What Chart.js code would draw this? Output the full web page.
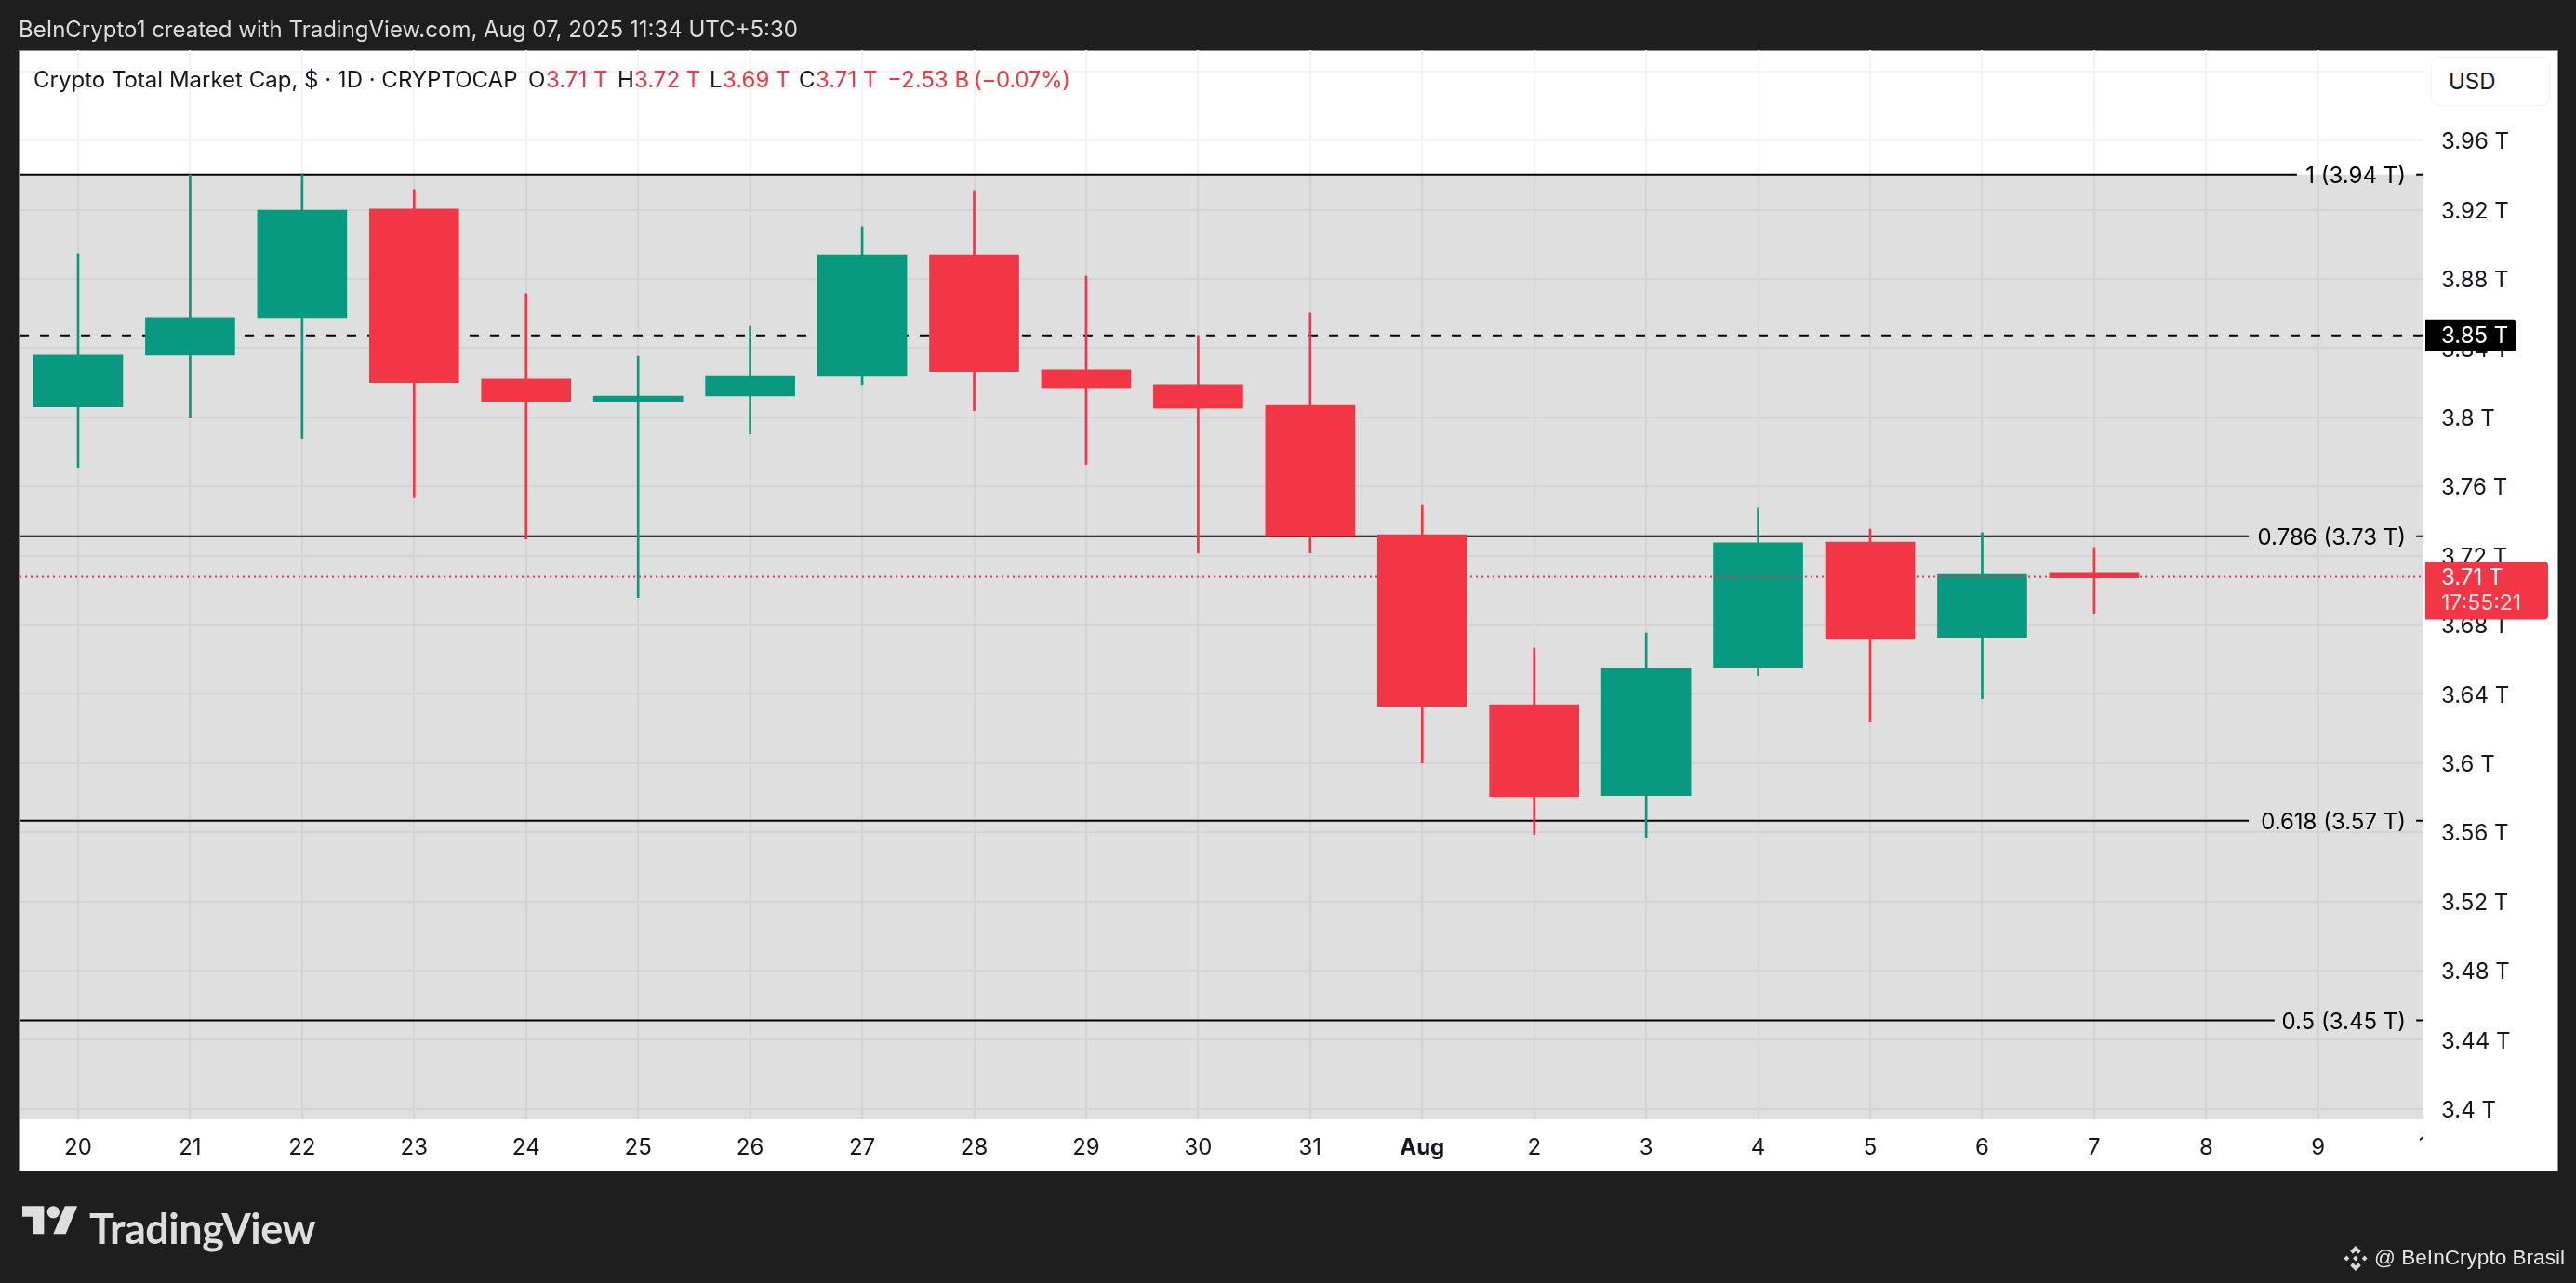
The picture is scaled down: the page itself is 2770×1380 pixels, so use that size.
<!DOCTYPE html>
<html><head><meta charset="utf-8">
<script src="https://cdn.jsdelivr.net/npm/chart.js@4"></script>
<style>
html,body{margin:0;padding:0;width:2770px;height:1380px;background:#1e1e1e;overflow:hidden;font-family:Inter,sans-serif}
#panel{position:absolute;left:20px;top:54px;width:2731px;height:1206px;box-sizing:border-box;background:#fff;border:1px solid #8a8a8a}
canvas{position:absolute;left:0;top:0}
.t{position:absolute;white-space:nowrap;font-size:24px;line-height:30px}
.d{color:#131722}.r{color:#f23645}
#usd{position:absolute;left:2614px;top:61px;width:128px;height:53px;box-sizing:border-box;border:1px solid #f0f3fa;border-radius:8px;background:#fff;color:#131722;font-size:24px;line-height:51px;padding-left:18px}
</style></head><body>
<div id="panel"></div>
<canvas id="c" width="2770" height="1380"></canvas>
<div class="t" style="left:20px;top:17px;color:#dcdcdc;font-size:24px">BeInCrypto1 created with TradingView.com, Aug 07, 2025 11:34 UTC+5:30</div>
<div class="t d" style="left:36px;top:71px">Crypto Total Market Cap, $ · 1D · CRYPTOCAP</div>
<div class="t d" style="left:568px;top:71px">O</div><div class="t r" style="left:587px;top:71px">3.71 T</div>
<div class="t d" style="left:664px;top:71px">H</div><div class="t r" style="left:682px;top:71px">3.72 T</div>
<div class="t d" style="left:763px;top:71px">L</div><div class="t r" style="left:777px;top:71px">3.69 T</div>
<div class="t d" style="left:859px;top:71px">C</div><div class="t r" style="left:877px;top:71px">3.71 T</div>
<div class="t r" style="left:954px;top:71px">−2.53 B</div><div class="t r" style="left:1047px;top:71px;letter-spacing:-.3px">(−0.07%)</div>
<div id="usd">USD</div>
<svg style="position:absolute;left:24px;top:1297px" width="60" height="37" viewBox="0 4 36 22"><g fill="#dedede"><path d="M14 22H7V11H0V4h14v18zM28 22h-8l7.5-18h8L28 22z"/><circle cx="20" cy="8" r="4"/></g></svg>
<div class="t" style="left:96px;top:1295px;font-family:Lato,sans-serif;font-weight:700;font-size:45px;line-height:52px;color:#dedede;letter-spacing:-.5px">TradingView</div>
<svg style="position:absolute;left:2519px;top:1340px" width="28" height="27" viewBox="0 0 28 28"><g fill="#d8d8d8"><path d="M14 0l6 6-3 3-3-3-3 3-3-3zM14 28l-6-6 3-3 3 3 3-3 3 3zM4 11l3 3-3 3-3-3zM24 11l3 3-3 3-3-3zM14 11l3 3-3 3-3-3z"/></g></svg>
<div class="t" style="left:2553px;top:1338px;font-family:'Liberation Sans',sans-serif;color:#e4e4e4;font-size:22.6px">@ BeInCrypto Brasil</div>
<script>
// ---- data ----
const dayLabels = ['20','21','22','23','24','25','26','27','28','29','30','31','Aug','2','3','4','5','6','7','8','9'];
const clippedDayLabel = '10';
const openValues  = [3.806,3.836,3.8575,3.9204,3.822,3.8093,3.8123,3.8241,3.894,3.8274,3.8188,3.8069,3.7322,3.6338,3.5813,3.6555,3.7279,3.6727,3.7102];
const closeValues = [3.836,3.8575,3.9198,3.82,3.8093,3.8123,3.8241,3.894,3.8265,3.8172,3.8053,3.7311,3.6329,3.5808,3.6548,3.7274,3.6722,3.7096,3.7071];
const highValues  = [3.8946,3.9404,3.9404,3.9317,3.8715,3.8354,3.8526,3.9102,3.9311,3.8817,3.8473,3.8602,3.7494,3.6666,3.6752,3.7478,3.7354,3.7333,3.7247];
const lowValues   = [3.7711,3.7996,3.7878,3.7534,3.7297,3.6958,3.7904,3.8188,3.8039,3.7727,3.7216,3.7216,3.6001,3.5587,3.5571,3.6507,3.6238,3.6372,3.6867];
const priceTicks  = [4.0,3.96,3.92,3.88,3.84,3.8,3.76,3.72,3.68,3.64,3.6,3.56,3.52,3.48,3.44,3.4];
const priceLabels = ['','3.96 T','3.92 T','3.88 T','3.84 T','3.8 T','3.76 T','3.72 T','3.68 T','3.64 T','3.6 T','3.56 T','3.52 T','3.48 T','3.44 T','3.4 T'];
const fibLevels   = [3.9404,3.7312,3.5667,3.4513];
const fibLabels   = ['1 (3.94 T)','0.786 (3.73 T)','0.618 (3.57 T)','0.5 (3.45 T)'];
const fibGapStart = [19.81,19.38,19.38,19.61];
const fibGapEnd   = 20.875;
const dashedLevel = 3.8474, dashedLabel = '3.85 T';
const lastPrice   = 3.7077, lastLabel = '3.71 T', countdown = '17:55:21';
// ---- view ----
const xMin=-0.523, xMax=20.94, yMin=3.394, yMax=4.0123;
const UP='#089981', DOWN='#f23645', INK='#131722';
const FONT='Inter, sans-serif';
const idx=openValues.map((_,i)=>i);
const colorOf=c=>closeValues[c.dataIndex]>=openValues[c.dataIndex]?UP:DOWN;
const hLine=(label,pts,extra)=>Object.assign({type:'line',label,data:pts,borderColor:'#000',borderWidth:2,pointRadius:0,spanGaps:false,tension:0},extra);

const datasets=[
  hLine('Fib zone',[{x:xMin,y:fibLevels[0]},{x:xMax,y:fibLevels[0]}],{borderWidth:0,fill:'start',backgroundColor:'rgba(0,0,0,0.125)',order:9}),
  ...fibLevels.map((lv,i)=>hLine(fibLabels[i],[{x:xMin,y:lv},{x:fibGapStart[i],y:lv},{x:fibGapStart[i],y:null},{x:fibGapEnd,y:lv},{x:xMax,y:lv}],{order:8})),
  hLine('Level '+dashedLabel,[{x:xMin,y:dashedLevel},{x:xMax,y:dashedLevel}],{borderDash:[10,12],order:8}),
  {type:'bar',label:'High-low',data:idx.map(i=>({x:i,y:[lowValues[i],highValues[i]]})),backgroundColor:colorOf,barThickness:2,order:4},
  {type:'bar',label:'Open-close',data:idx.map(i=>({x:i,y:[openValues[i],closeValues[i]]})),backgroundColor:colorOf,barThickness:96,order:3},
  hLine('Last price',[{x:xMin,y:lastPrice},{x:xMax,y:lastPrice}],{borderColor:DOWN,borderDash:[2,4],order:1}),
];

const overlay={id:'overlay',afterDraw(chart){
  const {ctx,chartArea:a,scales:{x,y}}=chart;
  ctx.save();
  ctx.font='24px '+FONT;ctx.textBaseline='middle';
  // fib labels
  ctx.fillStyle='#000';ctx.textAlign='right';
  fibLevels.forEach((lv,i)=>ctx.fillText(fibLabels[i],a.right-19,y.getPixelForValue(lv)+2));
  // clipped last day label
  ctx.save();ctx.beginPath();ctx.rect(a.left,a.bottom,a.right-a.left,54);ctx.clip();
  ctx.fillStyle=INK;ctx.textAlign='center';ctx.fillText(clippedDayLabel,x.getPixelForValue(21),a.bottom+29);ctx.restore();
  // price tags
  ctx.textAlign='left';
  const yd=y.getPixelForValue(dashedLevel);
  ctx.fillStyle='#000';ctx.beginPath();ctx.roundRect(a.right+2,yd-17,98,34,[0,4,4,0]);ctx.fill();
  ctx.fillStyle='#fff';ctx.fillText(dashedLabel,a.right+19,yd+1);
  const yl=y.getPixelForValue(lastPrice);
  ctx.fillStyle=DOWN;ctx.beginPath();ctx.roundRect(a.right+2,yl-16,132,62,[0,4,4,0]);ctx.fill();
  ctx.fillStyle='#fff';ctx.fillText(lastLabel,a.right+19,yl+1);
  ctx.fillStyle='rgba(255,255,255,.85)';ctx.font='23px '+FONT;ctx.fillText(countdown,a.right+19,yl+29);
  ctx.restore();
}};

new Chart(document.getElementById('c'),{
  data:{datasets},
  plugins:[overlay],
  options:{
    responsive:false,animation:false,devicePixelRatio:1,
    layout:{padding:{left:21,top:54,right:20,bottom:121}},
    plugins:{legend:{display:false},tooltip:{enabled:false},title:{display:false}},
    scales:{
      x:{type:'linear',offset:false,stacked:true,min:xMin,max:xMax,
        grid:{color:'#f3f3f3',lineWidth:2,drawTicks:false,offset:false},border:{display:false},
        afterBuildTicks:s=>{s.ticks=dayLabels.map((_,i)=>({value:i}));},
        afterFit:s=>{s.height=55;},
        ticks:{autoSkip:false,maxRotation:0,padding:16,color:INK,
          font:c=>({family:FONT,size:24,weight:(c.tick&&dayLabels[c.tick.value]==='Aug')?'700':'400'}),
          callback:v=>dayLabels[v]}},
      y:{type:'linear',position:'right',stacked:false,min:yMin,max:yMax,
        grid:{color:'#f3f3f3',lineWidth:2,drawTicks:false},border:{display:false},
        afterBuildTicks:s=>{s.ticks=priceTicks.map(v=>({value:v}));},
        afterFit:s=>{s.width=144;},
        ticks:{autoSkip:false,crossAlign:'near',padding:19,labelOffset:2,color:INK,font:{family:FONT,size:24},
          callback:v=>priceLabels[priceTicks.indexOf(v)]}}
    }
  }
});
</script></body></html>
